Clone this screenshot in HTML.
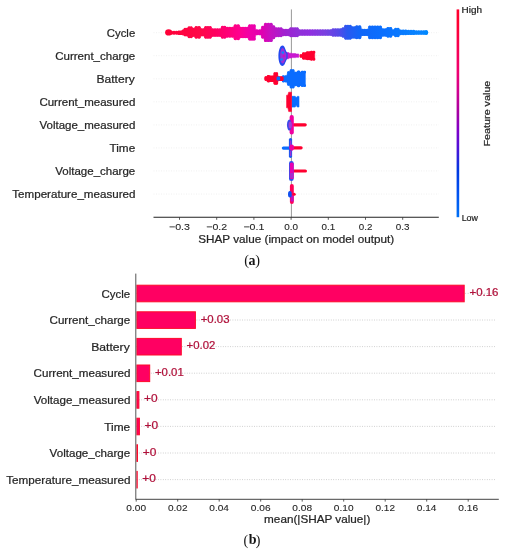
<!DOCTYPE html><html><head><meta charset="utf-8"><style>html,body{margin:0;padding:0;background:#fff;overflow:hidden}svg{display:block;will-change:transform;filter:blur(0.25px)}text{stroke-width:0.22px}text{font-family:"Liberation Sans",sans-serif}</style></head><body>
<svg width="510" height="550" viewBox="0 0 510 550">
<rect width="510" height="550" fill="#fff"/>
<defs><linearGradient id="cb" x1="0" y1="0" x2="0" y2="1"><stop offset="0.000" stop-color="#ff0030"/><stop offset="0.060" stop-color="#ff0030"/><stop offset="0.300" stop-color="#f00070"/><stop offset="0.394" stop-color="#d00090"/><stop offset="0.490" stop-color="#a800a0"/><stop offset="0.580" stop-color="#8000c8"/><stop offset="0.663" stop-color="#5010d8"/><stop offset="0.774" stop-color="#0038e0"/><stop offset="0.880" stop-color="#0050f0"/><stop offset="1.000" stop-color="#0070f4"/></linearGradient>
<linearGradient id="gcyc" gradientUnits="userSpaceOnUse" x1="165" y1="0" x2="428" y2="0"><stop offset="0.000" stop-color="#ff0038"/><stop offset="0.133" stop-color="#ff0848"/><stop offset="0.190" stop-color="#ff0060"/><stop offset="0.240" stop-color="#ff0078"/><stop offset="0.285" stop-color="#ff0090"/><stop offset="0.323" stop-color="#f000a8"/><stop offset="0.369" stop-color="#e000b0"/><stop offset="0.399" stop-color="#c810c0"/><stop offset="0.456" stop-color="#a020d0"/><stop offset="0.506" stop-color="#9030d8"/><stop offset="0.551" stop-color="#9030e0"/><stop offset="0.608" stop-color="#7a40e0"/><stop offset="0.658" stop-color="#5848e8"/><stop offset="0.692" stop-color="#2a58f0"/><stop offset="0.741" stop-color="#1066f8"/><stop offset="0.837" stop-color="#0a70ff"/><stop offset="0.932" stop-color="#0880ff"/><stop offset="1.000" stop-color="#0888ff"/></linearGradient>
</defs>
<line x1="153.5" y1="32.7" x2="438.8" y2="32.7" stroke="#ececec" stroke-width="0.8" stroke-dasharray="1 1.5"/>
<line x1="153.5" y1="55.7" x2="438.8" y2="55.7" stroke="#ececec" stroke-width="0.8" stroke-dasharray="1 1.5"/>
<line x1="153.5" y1="78.8" x2="438.8" y2="78.8" stroke="#ececec" stroke-width="0.8" stroke-dasharray="1 1.5"/>
<line x1="153.5" y1="101.8" x2="438.8" y2="101.8" stroke="#ececec" stroke-width="0.8" stroke-dasharray="1 1.5"/>
<line x1="153.5" y1="124.9" x2="438.8" y2="124.9" stroke="#ececec" stroke-width="0.8" stroke-dasharray="1 1.5"/>
<line x1="153.5" y1="147.9" x2="438.8" y2="147.9" stroke="#ececec" stroke-width="0.8" stroke-dasharray="1 1.5"/>
<line x1="153.5" y1="170.9" x2="438.8" y2="170.9" stroke="#ececec" stroke-width="0.8" stroke-dasharray="1 1.5"/>
<line x1="153.5" y1="194.0" x2="438.8" y2="194.0" stroke="#ececec" stroke-width="0.8" stroke-dasharray="1 1.5"/>
<line x1="291.4" y1="9.4" x2="291.4" y2="217.3" stroke="#999" stroke-width="1"/>
<text x="106.83" y="36.60" font-size="10.8" fill="#262626" stroke="#262626" textLength="28.36" lengthAdjust="spacingAndGlyphs">Cycle</text>
<text x="55.21" y="59.64" font-size="10.8" fill="#262626" stroke="#262626" textLength="79.99" lengthAdjust="spacingAndGlyphs">Current_charge</text>
<text x="96.52" y="82.68" font-size="10.8" fill="#262626" stroke="#262626" textLength="38.21" lengthAdjust="spacingAndGlyphs">Battery</text>
<text x="39.41" y="105.72" font-size="10.8" fill="#262626" stroke="#262626" textLength="96.01" lengthAdjust="spacingAndGlyphs">Current_measured</text>
<text x="39.48" y="128.76" font-size="10.8" fill="#262626" stroke="#262626" textLength="95.96" lengthAdjust="spacingAndGlyphs">Voltage_measured</text>
<text x="109.50" y="151.80" font-size="10.8" fill="#262626" stroke="#262626" textLength="25.70" lengthAdjust="spacingAndGlyphs">Time</text>
<text x="55.29" y="174.84" font-size="10.8" fill="#262626" stroke="#262626" textLength="79.90" lengthAdjust="spacingAndGlyphs">Voltage_charge</text>
<text x="12.32" y="197.88" font-size="10.8" fill="#262626" stroke="#262626" textLength="123.13" lengthAdjust="spacingAndGlyphs">Temperature_measured</text>
<line x1="153.5" y1="217.3" x2="438.8" y2="217.3" stroke="#222" stroke-width="1.05"/>
<line x1="179.5" y1="217.3" x2="179.5" y2="219.8" stroke="#333" stroke-width="0.8"/>
<text x="168.98" y="229.90" font-size="9.05" fill="#262626" stroke="#262626" textLength="20.98" lengthAdjust="spacingAndGlyphs" style="stroke-width:0.1px">−0.3</text>
<line x1="216.7" y1="217.3" x2="216.7" y2="219.8" stroke="#333" stroke-width="0.8"/>
<text x="206.27" y="229.90" font-size="9.05" fill="#262626" stroke="#262626" textLength="20.88" lengthAdjust="spacingAndGlyphs" style="stroke-width:0.1px">−0.2</text>
<line x1="253.9" y1="217.3" x2="253.9" y2="219.8" stroke="#333" stroke-width="0.8"/>
<text x="243.44" y="229.90" font-size="9.05" fill="#262626" stroke="#262626" textLength="20.92" lengthAdjust="spacingAndGlyphs" style="stroke-width:0.1px">−0.1</text>
<line x1="291.1" y1="217.3" x2="291.1" y2="219.8" stroke="#333" stroke-width="0.8"/>
<text x="284.21" y="229.90" font-size="9.05" fill="#262626" stroke="#262626" textLength="13.76" lengthAdjust="spacingAndGlyphs" style="stroke-width:0.1px">0.0</text>
<line x1="328.3" y1="217.3" x2="328.3" y2="219.8" stroke="#333" stroke-width="0.8"/>
<text x="321.52" y="229.90" font-size="9.05" fill="#262626" stroke="#262626" textLength="13.63" lengthAdjust="spacingAndGlyphs" style="stroke-width:0.1px">0.1</text>
<line x1="365.5" y1="217.3" x2="365.5" y2="219.8" stroke="#333" stroke-width="0.8"/>
<text x="358.76" y="229.90" font-size="9.05" fill="#262626" stroke="#262626" textLength="13.59" lengthAdjust="spacingAndGlyphs" style="stroke-width:0.1px">0.2</text>
<line x1="402.7" y1="217.3" x2="402.7" y2="219.8" stroke="#333" stroke-width="0.8"/>
<text x="395.86" y="229.90" font-size="9.05" fill="#262626" stroke="#262626" textLength="13.70" lengthAdjust="spacingAndGlyphs" style="stroke-width:0.1px">0.3</text>
<text x="198.27" y="242.70" font-size="10.6" fill="#262626" stroke="#262626" textLength="195.94" lengthAdjust="spacingAndGlyphs">SHAP value (impact on model output)</text>
<rect x="456.6" y="9.4" width="2.6" height="207.8" fill="url(#cb)"/>
<text x="461.58" y="12.70" font-size="8.65" fill="#262626" stroke="#262626" textLength="20.46" lengthAdjust="spacingAndGlyphs">High</text>
<text x="461.67" y="220.80" font-size="8.65" fill="#262626" stroke="#262626" textLength="16.26" lengthAdjust="spacingAndGlyphs">Low</text>
<g transform="translate(490.3,0) rotate(-90)"><text x="-146.49" y="0.00" font-size="9.45" fill="#262626" stroke="#262626" textLength="65.85" lengthAdjust="spacingAndGlyphs">Feature value</text></g>
<text font-family="Liberation Serif" style="font-family:'Liberation Serif',serif;stroke-width:0" x="244.3" y="264.8" font-size="14.3" fill="#151515">(</text>
<text font-family="Liberation Serif" style="font-family:'Liberation Serif',serif;stroke-width:0" x="248.45" y="264.6" font-size="14" font-weight="bold" fill="#151515">a</text>
<text font-family="Liberation Serif" style="font-family:'Liberation Serif',serif;stroke-width:0" x="255.34" y="264.8" font-size="14.3" fill="#151515">)</text>
<polygon points="170.5,31.4 177.5,31.4 178.5,31.1 181.5,31.1 182.5,30.2 183.5,30.2 184.5,28.4 187.5,28.4 188.5,26.9 191.8,26.9 192.8,28.4 194.2,28.4 195.2,26.7 200.1,26.7 201.1,28.9 204.0,28.9 205.0,26.7 210.9,26.7 211.9,28.9 220.7,28.9 221.7,26.4 225.5,26.4 226.5,27.4 233.3,27.4 234.3,24.9 239.2,24.9 240.2,27.4 248.0,27.4 249.0,24.9 254.9,24.9 255.9,29.9 260.8,29.9 261.8,26.4 263.7,26.4 264.7,23.4 272.0,23.4 273.0,25.9 274.4,25.9 275.4,27.9 281.8,27.9 282.8,29.4 289.1,29.4 290.1,27.9 297.9,27.9 298.9,29.9 331.3,29.9 332.3,28.9 341.1,28.9 342.1,27.9 344.0,27.9 345.0,25.4 350.9,25.4 351.9,26.9 354.8,26.9 355.8,25.9 360.7,25.9 361.7,29.4 367.9,29.4 368.9,26.2 381.2,26.2 382.2,28.9 386.1,28.9 387.1,27.6 391.5,27.6 392.5,29.9 393.9,29.9 394.9,28.4 398.8,28.4 399.8,30.2 406.5,30.2 407.5,30.4 414.5,30.4 415.5,30.9 427.0,30.9 427.0,34.2 415.5,34.2 414.5,34.4 407.5,34.4 406.5,34.6 399.8,34.6 398.8,36.6 394.9,36.6 393.9,35.1 392.5,35.1 391.5,37.1 387.1,37.1 386.1,36.1 382.2,36.1 381.2,38.6 368.9,38.6 367.9,35.4 361.7,35.4 360.7,38.6 355.8,38.6 354.8,38.0 351.9,38.0 350.9,39.1 345.0,39.1 344.0,37.1 342.1,37.1 341.1,36.1 332.3,36.1 331.3,35.2 298.9,35.2 297.9,36.6 290.1,36.6 289.1,35.6 282.8,35.6 281.8,36.6 275.4,36.6 274.4,38.6 273.0,38.6 272.0,41.5 264.7,41.5 263.7,38.1 261.8,38.1 260.8,34.7 255.9,34.7 254.9,40.0 249.0,40.0 248.0,37.6 240.2,37.6 239.2,39.6 234.3,39.6 233.3,37.1 226.5,37.1 225.5,38.1 221.7,38.1 220.7,36.2 211.9,36.2 210.9,38.1 205.0,38.1 204.0,35.7 201.1,35.7 200.1,38.1 195.2,38.1 194.2,36.2 192.8,36.2 191.8,37.6 188.5,37.6 187.5,35.7 184.5,35.7 183.5,34.8 182.5,34.8 181.5,34.4 178.5,34.4 177.5,34.1 170.5,34.1" fill="url(#gcyc)" stroke="url(#gcyc)" stroke-width="0.5" stroke-linejoin="round"/><path d="M169.78,32.40a1.55,1.55 0 1,0 3.10,0a1.55,1.55 0 1,0 -3.10,0M169.78,33.10a1.55,1.55 0 1,0 3.10,0a1.55,1.55 0 1,0 -3.10,0M172.45,32.40a1.55,1.55 0 1,0 3.10,0a1.55,1.55 0 1,0 -3.10,0M172.45,33.10a1.55,1.55 0 1,0 3.10,0a1.55,1.55 0 1,0 -3.10,0M175.12,32.40a1.55,1.55 0 1,0 3.10,0a1.55,1.55 0 1,0 -3.10,0M175.12,33.10a1.55,1.55 0 1,0 3.10,0a1.55,1.55 0 1,0 -3.10,0M177.45,32.00a1.55,1.55 0 1,0 3.10,0a1.55,1.55 0 1,0 -3.10,0M177.45,33.40a1.55,1.55 0 1,0 3.10,0a1.55,1.55 0 1,0 -3.10,0M179.45,32.00a1.55,1.55 0 1,0 3.10,0a1.55,1.55 0 1,0 -3.10,0M179.45,33.40a1.55,1.55 0 1,0 3.10,0a1.55,1.55 0 1,0 -3.10,0M181.45,31.10a1.55,1.55 0 1,0 3.10,0a1.55,1.55 0 1,0 -3.10,0M181.45,33.80a1.55,1.55 0 1,0 3.10,0a1.55,1.55 0 1,0 -3.10,0M183.45,29.30a1.55,1.55 0 1,0 3.10,0a1.55,1.55 0 1,0 -3.10,0M183.45,34.70a1.55,1.55 0 1,0 3.10,0a1.55,1.55 0 1,0 -3.10,0M185.45,29.30a1.55,1.55 0 1,0 3.10,0a1.55,1.55 0 1,0 -3.10,0M185.45,34.70a1.55,1.55 0 1,0 3.10,0a1.55,1.55 0 1,0 -3.10,0M187.52,27.90a1.55,1.55 0 1,0 3.10,0a1.55,1.55 0 1,0 -3.10,0M187.52,36.60a1.55,1.55 0 1,0 3.10,0a1.55,1.55 0 1,0 -3.10,0M189.68,27.90a1.55,1.55 0 1,0 3.10,0a1.55,1.55 0 1,0 -3.10,0M189.68,36.60a1.55,1.55 0 1,0 3.10,0a1.55,1.55 0 1,0 -3.10,0M191.95,29.30a1.55,1.55 0 1,0 3.10,0a1.55,1.55 0 1,0 -3.10,0M191.95,35.20a1.55,1.55 0 1,0 3.10,0a1.55,1.55 0 1,0 -3.10,0M194.62,27.60a1.55,1.55 0 1,0 3.10,0a1.55,1.55 0 1,0 -3.10,0M194.62,37.10a1.55,1.55 0 1,0 3.10,0a1.55,1.55 0 1,0 -3.10,0M197.57,27.60a1.55,1.55 0 1,0 3.10,0a1.55,1.55 0 1,0 -3.10,0M197.57,37.10a1.55,1.55 0 1,0 3.10,0a1.55,1.55 0 1,0 -3.10,0M200.02,29.80a1.55,1.55 0 1,0 3.10,0a1.55,1.55 0 1,0 -3.10,0M200.02,34.70a1.55,1.55 0 1,0 3.10,0a1.55,1.55 0 1,0 -3.10,0M201.97,29.80a1.55,1.55 0 1,0 3.10,0a1.55,1.55 0 1,0 -3.10,0M201.97,34.70a1.55,1.55 0 1,0 3.10,0a1.55,1.55 0 1,0 -3.10,0M204.10,27.60a1.55,1.55 0 1,0 3.10,0a1.55,1.55 0 1,0 -3.10,0M204.10,37.10a1.55,1.55 0 1,0 3.10,0a1.55,1.55 0 1,0 -3.10,0M206.40,27.60a1.55,1.55 0 1,0 3.10,0a1.55,1.55 0 1,0 -3.10,0M206.40,37.10a1.55,1.55 0 1,0 3.10,0a1.55,1.55 0 1,0 -3.10,0M208.70,27.60a1.55,1.55 0 1,0 3.10,0a1.55,1.55 0 1,0 -3.10,0M208.70,37.10a1.55,1.55 0 1,0 3.10,0a1.55,1.55 0 1,0 -3.10,0M211.07,29.80a1.55,1.55 0 1,0 3.10,0a1.55,1.55 0 1,0 -3.10,0M211.07,35.20a1.55,1.55 0 1,0 3.10,0a1.55,1.55 0 1,0 -3.10,0M213.52,29.80a1.55,1.55 0 1,0 3.10,0a1.55,1.55 0 1,0 -3.10,0M213.52,35.20a1.55,1.55 0 1,0 3.10,0a1.55,1.55 0 1,0 -3.10,0M215.97,29.80a1.55,1.55 0 1,0 3.10,0a1.55,1.55 0 1,0 -3.10,0M215.97,35.20a1.55,1.55 0 1,0 3.10,0a1.55,1.55 0 1,0 -3.10,0M218.42,29.80a1.55,1.55 0 1,0 3.10,0a1.55,1.55 0 1,0 -3.10,0M218.42,35.20a1.55,1.55 0 1,0 3.10,0a1.55,1.55 0 1,0 -3.10,0M220.85,27.40a1.55,1.55 0 1,0 3.10,0a1.55,1.55 0 1,0 -3.10,0M220.85,37.10a1.55,1.55 0 1,0 3.10,0a1.55,1.55 0 1,0 -3.10,0M223.25,27.40a1.55,1.55 0 1,0 3.10,0a1.55,1.55 0 1,0 -3.10,0M223.25,37.10a1.55,1.55 0 1,0 3.10,0a1.55,1.55 0 1,0 -3.10,0M225.75,28.30a1.55,1.55 0 1,0 3.10,0a1.55,1.55 0 1,0 -3.10,0M225.75,36.10a1.55,1.55 0 1,0 3.10,0a1.55,1.55 0 1,0 -3.10,0M228.35,28.30a1.55,1.55 0 1,0 3.10,0a1.55,1.55 0 1,0 -3.10,0M228.35,36.10a1.55,1.55 0 1,0 3.10,0a1.55,1.55 0 1,0 -3.10,0M230.95,28.30a1.55,1.55 0 1,0 3.10,0a1.55,1.55 0 1,0 -3.10,0M230.95,36.10a1.55,1.55 0 1,0 3.10,0a1.55,1.55 0 1,0 -3.10,0M233.72,25.90a1.55,1.55 0 1,0 3.10,0a1.55,1.55 0 1,0 -3.10,0M233.72,38.60a1.55,1.55 0 1,0 3.10,0a1.55,1.55 0 1,0 -3.10,0M236.67,25.90a1.55,1.55 0 1,0 3.10,0a1.55,1.55 0 1,0 -3.10,0M236.67,38.60a1.55,1.55 0 1,0 3.10,0a1.55,1.55 0 1,0 -3.10,0M239.25,28.30a1.55,1.55 0 1,0 3.10,0a1.55,1.55 0 1,0 -3.10,0M239.25,36.60a1.55,1.55 0 1,0 3.10,0a1.55,1.55 0 1,0 -3.10,0M241.45,28.30a1.55,1.55 0 1,0 3.10,0a1.55,1.55 0 1,0 -3.10,0M241.45,36.60a1.55,1.55 0 1,0 3.10,0a1.55,1.55 0 1,0 -3.10,0M243.65,28.30a1.55,1.55 0 1,0 3.10,0a1.55,1.55 0 1,0 -3.10,0M243.65,36.60a1.55,1.55 0 1,0 3.10,0a1.55,1.55 0 1,0 -3.10,0M245.85,28.30a1.55,1.55 0 1,0 3.10,0a1.55,1.55 0 1,0 -3.10,0M245.85,36.60a1.55,1.55 0 1,0 3.10,0a1.55,1.55 0 1,0 -3.10,0M248.10,25.90a1.55,1.55 0 1,0 3.10,0a1.55,1.55 0 1,0 -3.10,0M248.10,39.00a1.55,1.55 0 1,0 3.10,0a1.55,1.55 0 1,0 -3.10,0M250.40,25.90a1.55,1.55 0 1,0 3.10,0a1.55,1.55 0 1,0 -3.10,0M250.40,39.00a1.55,1.55 0 1,0 3.10,0a1.55,1.55 0 1,0 -3.10,0M252.70,25.90a1.55,1.55 0 1,0 3.10,0a1.55,1.55 0 1,0 -3.10,0M252.70,39.00a1.55,1.55 0 1,0 3.10,0a1.55,1.55 0 1,0 -3.10,0M255.32,30.80a1.55,1.55 0 1,0 3.10,0a1.55,1.55 0 1,0 -3.10,0M255.32,33.70a1.55,1.55 0 1,0 3.10,0a1.55,1.55 0 1,0 -3.10,0M258.27,30.80a1.55,1.55 0 1,0 3.10,0a1.55,1.55 0 1,0 -3.10,0M258.27,33.70a1.55,1.55 0 1,0 3.10,0a1.55,1.55 0 1,0 -3.10,0M261.20,27.30a1.55,1.55 0 1,0 3.10,0a1.55,1.55 0 1,0 -3.10,0M261.20,37.10a1.55,1.55 0 1,0 3.10,0a1.55,1.55 0 1,0 -3.10,0M264.03,24.40a1.55,1.55 0 1,0 3.10,0a1.55,1.55 0 1,0 -3.10,0M264.03,40.50a1.55,1.55 0 1,0 3.10,0a1.55,1.55 0 1,0 -3.10,0M266.80,24.40a1.55,1.55 0 1,0 3.10,0a1.55,1.55 0 1,0 -3.10,0M266.80,40.50a1.55,1.55 0 1,0 3.10,0a1.55,1.55 0 1,0 -3.10,0M269.57,24.40a1.55,1.55 0 1,0 3.10,0a1.55,1.55 0 1,0 -3.10,0M269.57,40.50a1.55,1.55 0 1,0 3.10,0a1.55,1.55 0 1,0 -3.10,0M272.15,26.90a1.55,1.55 0 1,0 3.10,0a1.55,1.55 0 1,0 -3.10,0M272.15,37.60a1.55,1.55 0 1,0 3.10,0a1.55,1.55 0 1,0 -3.10,0M274.58,28.80a1.55,1.55 0 1,0 3.10,0a1.55,1.55 0 1,0 -3.10,0M274.58,35.60a1.55,1.55 0 1,0 3.10,0a1.55,1.55 0 1,0 -3.10,0M277.05,28.80a1.55,1.55 0 1,0 3.10,0a1.55,1.55 0 1,0 -3.10,0M277.05,35.60a1.55,1.55 0 1,0 3.10,0a1.55,1.55 0 1,0 -3.10,0M279.52,28.80a1.55,1.55 0 1,0 3.10,0a1.55,1.55 0 1,0 -3.10,0M279.52,35.60a1.55,1.55 0 1,0 3.10,0a1.55,1.55 0 1,0 -3.10,0M281.97,30.30a1.55,1.55 0 1,0 3.10,0a1.55,1.55 0 1,0 -3.10,0M281.97,34.60a1.55,1.55 0 1,0 3.10,0a1.55,1.55 0 1,0 -3.10,0M284.40,30.30a1.55,1.55 0 1,0 3.10,0a1.55,1.55 0 1,0 -3.10,0M284.40,34.60a1.55,1.55 0 1,0 3.10,0a1.55,1.55 0 1,0 -3.10,0M286.83,30.30a1.55,1.55 0 1,0 3.10,0a1.55,1.55 0 1,0 -3.10,0M286.83,34.60a1.55,1.55 0 1,0 3.10,0a1.55,1.55 0 1,0 -3.10,0M289.15,28.80a1.55,1.55 0 1,0 3.10,0a1.55,1.55 0 1,0 -3.10,0M289.15,35.60a1.55,1.55 0 1,0 3.10,0a1.55,1.55 0 1,0 -3.10,0M291.35,28.80a1.55,1.55 0 1,0 3.10,0a1.55,1.55 0 1,0 -3.10,0M291.35,35.60a1.55,1.55 0 1,0 3.10,0a1.55,1.55 0 1,0 -3.10,0M293.55,28.80a1.55,1.55 0 1,0 3.10,0a1.55,1.55 0 1,0 -3.10,0M293.55,35.60a1.55,1.55 0 1,0 3.10,0a1.55,1.55 0 1,0 -3.10,0M295.75,28.80a1.55,1.55 0 1,0 3.10,0a1.55,1.55 0 1,0 -3.10,0M295.75,35.60a1.55,1.55 0 1,0 3.10,0a1.55,1.55 0 1,0 -3.10,0M298.13,30.80a1.55,1.55 0 1,0 3.10,0a1.55,1.55 0 1,0 -3.10,0M298.13,34.30a1.55,1.55 0 1,0 3.10,0a1.55,1.55 0 1,0 -3.10,0M300.70,30.80a1.55,1.55 0 1,0 3.10,0a1.55,1.55 0 1,0 -3.10,0M300.70,34.30a1.55,1.55 0 1,0 3.10,0a1.55,1.55 0 1,0 -3.10,0M303.27,30.80a1.55,1.55 0 1,0 3.10,0a1.55,1.55 0 1,0 -3.10,0M303.27,34.30a1.55,1.55 0 1,0 3.10,0a1.55,1.55 0 1,0 -3.10,0M305.84,30.80a1.55,1.55 0 1,0 3.10,0a1.55,1.55 0 1,0 -3.10,0M305.84,34.30a1.55,1.55 0 1,0 3.10,0a1.55,1.55 0 1,0 -3.10,0M308.41,30.80a1.55,1.55 0 1,0 3.10,0a1.55,1.55 0 1,0 -3.10,0M308.41,34.30a1.55,1.55 0 1,0 3.10,0a1.55,1.55 0 1,0 -3.10,0M310.98,30.80a1.55,1.55 0 1,0 3.10,0a1.55,1.55 0 1,0 -3.10,0M310.98,34.30a1.55,1.55 0 1,0 3.10,0a1.55,1.55 0 1,0 -3.10,0M313.55,30.80a1.55,1.55 0 1,0 3.10,0a1.55,1.55 0 1,0 -3.10,0M313.55,34.30a1.55,1.55 0 1,0 3.10,0a1.55,1.55 0 1,0 -3.10,0M316.12,30.80a1.55,1.55 0 1,0 3.10,0a1.55,1.55 0 1,0 -3.10,0M316.12,34.30a1.55,1.55 0 1,0 3.10,0a1.55,1.55 0 1,0 -3.10,0M318.69,30.80a1.55,1.55 0 1,0 3.10,0a1.55,1.55 0 1,0 -3.10,0M318.69,34.30a1.55,1.55 0 1,0 3.10,0a1.55,1.55 0 1,0 -3.10,0M321.26,30.80a1.55,1.55 0 1,0 3.10,0a1.55,1.55 0 1,0 -3.10,0M321.26,34.30a1.55,1.55 0 1,0 3.10,0a1.55,1.55 0 1,0 -3.10,0M323.83,30.80a1.55,1.55 0 1,0 3.10,0a1.55,1.55 0 1,0 -3.10,0M323.83,34.30a1.55,1.55 0 1,0 3.10,0a1.55,1.55 0 1,0 -3.10,0M326.40,30.80a1.55,1.55 0 1,0 3.10,0a1.55,1.55 0 1,0 -3.10,0M326.40,34.30a1.55,1.55 0 1,0 3.10,0a1.55,1.55 0 1,0 -3.10,0M328.97,30.80a1.55,1.55 0 1,0 3.10,0a1.55,1.55 0 1,0 -3.10,0M328.97,34.30a1.55,1.55 0 1,0 3.10,0a1.55,1.55 0 1,0 -3.10,0M331.48,29.80a1.55,1.55 0 1,0 3.10,0a1.55,1.55 0 1,0 -3.10,0M331.48,35.10a1.55,1.55 0 1,0 3.10,0a1.55,1.55 0 1,0 -3.10,0M333.93,29.80a1.55,1.55 0 1,0 3.10,0a1.55,1.55 0 1,0 -3.10,0M333.93,35.10a1.55,1.55 0 1,0 3.10,0a1.55,1.55 0 1,0 -3.10,0M336.38,29.80a1.55,1.55 0 1,0 3.10,0a1.55,1.55 0 1,0 -3.10,0M336.38,35.10a1.55,1.55 0 1,0 3.10,0a1.55,1.55 0 1,0 -3.10,0M338.82,29.80a1.55,1.55 0 1,0 3.10,0a1.55,1.55 0 1,0 -3.10,0M338.82,35.10a1.55,1.55 0 1,0 3.10,0a1.55,1.55 0 1,0 -3.10,0M341.50,28.80a1.55,1.55 0 1,0 3.10,0a1.55,1.55 0 1,0 -3.10,0M341.50,36.10a1.55,1.55 0 1,0 3.10,0a1.55,1.55 0 1,0 -3.10,0M344.10,26.40a1.55,1.55 0 1,0 3.10,0a1.55,1.55 0 1,0 -3.10,0M344.10,38.10a1.55,1.55 0 1,0 3.10,0a1.55,1.55 0 1,0 -3.10,0M346.40,26.40a1.55,1.55 0 1,0 3.10,0a1.55,1.55 0 1,0 -3.10,0M346.40,38.10a1.55,1.55 0 1,0 3.10,0a1.55,1.55 0 1,0 -3.10,0M348.70,26.40a1.55,1.55 0 1,0 3.10,0a1.55,1.55 0 1,0 -3.10,0M348.70,38.10a1.55,1.55 0 1,0 3.10,0a1.55,1.55 0 1,0 -3.10,0M350.82,27.80a1.55,1.55 0 1,0 3.10,0a1.55,1.55 0 1,0 -3.10,0M350.82,37.00a1.55,1.55 0 1,0 3.10,0a1.55,1.55 0 1,0 -3.10,0M352.77,27.80a1.55,1.55 0 1,0 3.10,0a1.55,1.55 0 1,0 -3.10,0M352.77,37.00a1.55,1.55 0 1,0 3.10,0a1.55,1.55 0 1,0 -3.10,0M355.22,26.90a1.55,1.55 0 1,0 3.10,0a1.55,1.55 0 1,0 -3.10,0M355.22,37.60a1.55,1.55 0 1,0 3.10,0a1.55,1.55 0 1,0 -3.10,0M358.18,26.90a1.55,1.55 0 1,0 3.10,0a1.55,1.55 0 1,0 -3.10,0M358.18,37.60a1.55,1.55 0 1,0 3.10,0a1.55,1.55 0 1,0 -3.10,0M360.85,30.30a1.55,1.55 0 1,0 3.10,0a1.55,1.55 0 1,0 -3.10,0M360.85,34.40a1.55,1.55 0 1,0 3.10,0a1.55,1.55 0 1,0 -3.10,0M363.25,30.30a1.55,1.55 0 1,0 3.10,0a1.55,1.55 0 1,0 -3.10,0M363.25,34.40a1.55,1.55 0 1,0 3.10,0a1.55,1.55 0 1,0 -3.10,0M365.65,30.30a1.55,1.55 0 1,0 3.10,0a1.55,1.55 0 1,0 -3.10,0M365.65,34.40a1.55,1.55 0 1,0 3.10,0a1.55,1.55 0 1,0 -3.10,0M368.18,27.10a1.55,1.55 0 1,0 3.10,0a1.55,1.55 0 1,0 -3.10,0M368.18,37.60a1.55,1.55 0 1,0 3.10,0a1.55,1.55 0 1,0 -3.10,0M370.84,27.10a1.55,1.55 0 1,0 3.10,0a1.55,1.55 0 1,0 -3.10,0M370.84,37.60a1.55,1.55 0 1,0 3.10,0a1.55,1.55 0 1,0 -3.10,0M373.50,27.10a1.55,1.55 0 1,0 3.10,0a1.55,1.55 0 1,0 -3.10,0M373.50,37.60a1.55,1.55 0 1,0 3.10,0a1.55,1.55 0 1,0 -3.10,0M376.16,27.10a1.55,1.55 0 1,0 3.10,0a1.55,1.55 0 1,0 -3.10,0M376.16,37.60a1.55,1.55 0 1,0 3.10,0a1.55,1.55 0 1,0 -3.10,0M378.82,27.10a1.55,1.55 0 1,0 3.10,0a1.55,1.55 0 1,0 -3.10,0M378.82,37.60a1.55,1.55 0 1,0 3.10,0a1.55,1.55 0 1,0 -3.10,0M381.38,29.80a1.55,1.55 0 1,0 3.10,0a1.55,1.55 0 1,0 -3.10,0M381.38,35.10a1.55,1.55 0 1,0 3.10,0a1.55,1.55 0 1,0 -3.10,0M383.82,29.80a1.55,1.55 0 1,0 3.10,0a1.55,1.55 0 1,0 -3.10,0M383.82,35.10a1.55,1.55 0 1,0 3.10,0a1.55,1.55 0 1,0 -3.10,0M386.40,28.50a1.55,1.55 0 1,0 3.10,0a1.55,1.55 0 1,0 -3.10,0M386.40,36.10a1.55,1.55 0 1,0 3.10,0a1.55,1.55 0 1,0 -3.10,0M389.10,28.50a1.55,1.55 0 1,0 3.10,0a1.55,1.55 0 1,0 -3.10,0M389.10,36.10a1.55,1.55 0 1,0 3.10,0a1.55,1.55 0 1,0 -3.10,0M391.65,30.80a1.55,1.55 0 1,0 3.10,0a1.55,1.55 0 1,0 -3.10,0M391.65,34.10a1.55,1.55 0 1,0 3.10,0a1.55,1.55 0 1,0 -3.10,0M394.07,29.30a1.55,1.55 0 1,0 3.10,0a1.55,1.55 0 1,0 -3.10,0M394.07,35.60a1.55,1.55 0 1,0 3.10,0a1.55,1.55 0 1,0 -3.10,0M396.52,29.30a1.55,1.55 0 1,0 3.10,0a1.55,1.55 0 1,0 -3.10,0M396.52,35.60a1.55,1.55 0 1,0 3.10,0a1.55,1.55 0 1,0 -3.10,0M399.03,31.10a1.55,1.55 0 1,0 3.10,0a1.55,1.55 0 1,0 -3.10,0M399.03,33.60a1.55,1.55 0 1,0 3.10,0a1.55,1.55 0 1,0 -3.10,0M401.60,31.10a1.55,1.55 0 1,0 3.10,0a1.55,1.55 0 1,0 -3.10,0M401.60,33.60a1.55,1.55 0 1,0 3.10,0a1.55,1.55 0 1,0 -3.10,0M404.17,31.10a1.55,1.55 0 1,0 3.10,0a1.55,1.55 0 1,0 -3.10,0M404.17,33.60a1.55,1.55 0 1,0 3.10,0a1.55,1.55 0 1,0 -3.10,0M406.78,31.40a1.55,1.55 0 1,0 3.10,0a1.55,1.55 0 1,0 -3.10,0M406.78,33.40a1.55,1.55 0 1,0 3.10,0a1.55,1.55 0 1,0 -3.10,0M409.45,31.40a1.55,1.55 0 1,0 3.10,0a1.55,1.55 0 1,0 -3.10,0M409.45,33.40a1.55,1.55 0 1,0 3.10,0a1.55,1.55 0 1,0 -3.10,0M412.12,31.40a1.55,1.55 0 1,0 3.10,0a1.55,1.55 0 1,0 -3.10,0M412.12,33.40a1.55,1.55 0 1,0 3.10,0a1.55,1.55 0 1,0 -3.10,0M414.70,31.80a1.55,1.55 0 1,0 3.10,0a1.55,1.55 0 1,0 -3.10,0M414.70,33.20a1.55,1.55 0 1,0 3.10,0a1.55,1.55 0 1,0 -3.10,0M417.20,31.80a1.55,1.55 0 1,0 3.10,0a1.55,1.55 0 1,0 -3.10,0M417.20,33.20a1.55,1.55 0 1,0 3.10,0a1.55,1.55 0 1,0 -3.10,0M419.70,31.80a1.55,1.55 0 1,0 3.10,0a1.55,1.55 0 1,0 -3.10,0M419.70,33.20a1.55,1.55 0 1,0 3.10,0a1.55,1.55 0 1,0 -3.10,0M422.20,31.80a1.55,1.55 0 1,0 3.10,0a1.55,1.55 0 1,0 -3.10,0M422.20,33.20a1.55,1.55 0 1,0 3.10,0a1.55,1.55 0 1,0 -3.10,0M424.70,31.80a1.55,1.55 0 1,0 3.10,0a1.55,1.55 0 1,0 -3.10,0M424.70,33.20a1.55,1.55 0 1,0 3.10,0a1.55,1.55 0 1,0 -3.10,0" fill="url(#gcyc)"/>
<ellipse cx="168.6" cy="32.45" rx="3.5" ry="3.15" fill="#ff0038"/>
<circle cx="426" cy="32.5" r="2.25" fill="#0088ff"/>
<polygon points="285.9,52.6 288.6,52.6 289.4,53.2 291.6,53.2 292.4,53.6 295.6,53.6 296.4,54.0 298.8,54.0 298.8,57.3 296.4,57.3 295.6,57.6 292.4,57.6 291.6,58.0 289.4,58.0 288.6,58.8 285.9,58.8" fill="#c818d0" stroke="#c818d0" stroke-width="0.6" stroke-linejoin="round"/>
<path d="M287.6,53.2 C285.4,51.5 285.2,45.6 282.6,45.6 C280,45.6 278.4,50.5 278.4,56 C278.4,61.5 280,65.9 282.6,65.9 C285.2,65.9 285.4,60.5 287.6,58.6 Z" fill="#2448f0"/>
<path d="M286.4,53.4 C284.6,52 284.2,48 282.8,48 C281.2,48 280.2,51.5 280.2,56 C280.2,60.5 281.2,63.5 282.8,63.5 C284.2,63.5 284.6,60 286.4,58.4 Z" fill="#9a30d8"/>
<circle cx="282.8" cy="52.5" r="1.3" fill="#0a88ff"/><circle cx="281.6" cy="59.5" r="1.3" fill="#0a88ff"/><circle cx="283.8" cy="56" r="1.1" fill="#e000c0"/>
<polygon points="300.1,54.8 301.9,54.8 302.9,52.9 305.8,52.9 306.8,51.9 309.7,51.9 310.7,51.4 314.7,51.4 314.7,60.1 310.7,60.1 309.7,59.6 306.8,59.6 305.8,59.1 302.9,59.1 301.9,57.2 300.1,57.2" fill="#ff0030" stroke="#ff0030" stroke-width="0.5" stroke-linejoin="round"/><path d="M299.60,55.55a1.4,1.4 0 1,0 2.80,0a1.4,1.4 0 1,0 -2.80,0M299.60,56.35a1.4,1.4 0 1,0 2.80,0a1.4,1.4 0 1,0 -2.80,0M301.98,53.75a1.4,1.4 0 1,0 2.80,0a1.4,1.4 0 1,0 -2.80,0M301.98,58.25a1.4,1.4 0 1,0 2.80,0a1.4,1.4 0 1,0 -2.80,0M303.93,53.75a1.4,1.4 0 1,0 2.80,0a1.4,1.4 0 1,0 -2.80,0M303.93,58.25a1.4,1.4 0 1,0 2.80,0a1.4,1.4 0 1,0 -2.80,0M305.88,52.75a1.4,1.4 0 1,0 2.80,0a1.4,1.4 0 1,0 -2.80,0M305.88,58.75a1.4,1.4 0 1,0 2.80,0a1.4,1.4 0 1,0 -2.80,0M307.83,52.75a1.4,1.4 0 1,0 2.80,0a1.4,1.4 0 1,0 -2.80,0M307.83,58.75a1.4,1.4 0 1,0 2.80,0a1.4,1.4 0 1,0 -2.80,0M310.05,52.25a1.4,1.4 0 1,0 2.80,0a1.4,1.4 0 1,0 -2.80,0M310.05,59.25a1.4,1.4 0 1,0 2.80,0a1.4,1.4 0 1,0 -2.80,0M312.55,52.25a1.4,1.4 0 1,0 2.80,0a1.4,1.4 0 1,0 -2.80,0M312.55,59.25a1.4,1.4 0 1,0 2.80,0a1.4,1.4 0 1,0 -2.80,0" fill="#ff0030"/>
<polygon points="265.7,77.0 266.3,77.0 267.3,75.5 269.5,75.5 270.5,76.1 273.3,76.1 274.3,72.8 277.3,72.8 278.3,76.8 283.5,76.8 283.5,80.5 278.3,80.5 277.3,84.2 274.3,84.2 273.3,81.5 270.5,81.5 269.5,81.9 267.3,81.9 266.3,80.2 265.7,80.2" fill="#ff0030" stroke="#ff0030" stroke-width="0.5" stroke-linejoin="round"/><path d="M264.60,77.75a1.4,1.4 0 1,0 2.80,0a1.4,1.4 0 1,0 -2.80,0M264.60,79.45a1.4,1.4 0 1,0 2.80,0a1.4,1.4 0 1,0 -2.80,0M267.00,76.35a1.4,1.4 0 1,0 2.80,0a1.4,1.4 0 1,0 -2.80,0M267.00,81.05a1.4,1.4 0 1,0 2.80,0a1.4,1.4 0 1,0 -2.80,0M269.55,76.95a1.4,1.4 0 1,0 2.80,0a1.4,1.4 0 1,0 -2.80,0M269.55,80.65a1.4,1.4 0 1,0 2.80,0a1.4,1.4 0 1,0 -2.80,0M271.45,76.95a1.4,1.4 0 1,0 2.80,0a1.4,1.4 0 1,0 -2.80,0M271.45,80.65a1.4,1.4 0 1,0 2.80,0a1.4,1.4 0 1,0 -2.80,0M273.40,73.65a1.4,1.4 0 1,0 2.80,0a1.4,1.4 0 1,0 -2.80,0M273.40,83.35a1.4,1.4 0 1,0 2.80,0a1.4,1.4 0 1,0 -2.80,0M275.40,73.65a1.4,1.4 0 1,0 2.80,0a1.4,1.4 0 1,0 -2.80,0M275.40,83.35a1.4,1.4 0 1,0 2.80,0a1.4,1.4 0 1,0 -2.80,0M277.43,77.55a1.4,1.4 0 1,0 2.80,0a1.4,1.4 0 1,0 -2.80,0M277.43,79.65a1.4,1.4 0 1,0 2.80,0a1.4,1.4 0 1,0 -2.80,0M279.50,77.55a1.4,1.4 0 1,0 2.80,0a1.4,1.4 0 1,0 -2.80,0M279.50,79.65a1.4,1.4 0 1,0 2.80,0a1.4,1.4 0 1,0 -2.80,0M281.57,77.55a1.4,1.4 0 1,0 2.80,0a1.4,1.4 0 1,0 -2.80,0M281.57,79.65a1.4,1.4 0 1,0 2.80,0a1.4,1.4 0 1,0 -2.80,0" fill="#ff0030"/>
<ellipse cx="265.6" cy="78.6" rx="1.3" ry="2.4" fill="#ff0030"/>
<polygon points="282.5,76.0 286.7,76.0 287.7,71.8 289.5,71.8 290.5,69.8 293.7,69.8 294.7,72.3 296.5,72.3 297.5,71.0 299.7,71.0 300.7,72.5 300.5,72.5 301.5,71.3 305.4,71.3 305.4,86.4 301.5,86.4 300.5,85.2 300.7,85.2 299.7,86.7 297.5,86.7 296.5,85.7 294.7,85.7 293.7,87.9 290.5,87.9 289.5,85.2 287.7,85.2 286.7,81.9 282.5,81.9" fill="#0a6cff" stroke="#0a6cff" stroke-width="0.5" stroke-linejoin="round"/><path d="M281.90,76.75a1.4,1.4 0 1,0 2.80,0a1.4,1.4 0 1,0 -2.80,0M281.90,81.05a1.4,1.4 0 1,0 2.80,0a1.4,1.4 0 1,0 -2.80,0M284.50,76.75a1.4,1.4 0 1,0 2.80,0a1.4,1.4 0 1,0 -2.80,0M284.50,81.05a1.4,1.4 0 1,0 2.80,0a1.4,1.4 0 1,0 -2.80,0M287.20,72.65a1.4,1.4 0 1,0 2.80,0a1.4,1.4 0 1,0 -2.80,0M287.20,84.45a1.4,1.4 0 1,0 2.80,0a1.4,1.4 0 1,0 -2.80,0M289.65,70.55a1.4,1.4 0 1,0 2.80,0a1.4,1.4 0 1,0 -2.80,0M289.65,87.05a1.4,1.4 0 1,0 2.80,0a1.4,1.4 0 1,0 -2.80,0M291.75,70.55a1.4,1.4 0 1,0 2.80,0a1.4,1.4 0 1,0 -2.80,0M291.75,87.05a1.4,1.4 0 1,0 2.80,0a1.4,1.4 0 1,0 -2.80,0M294.20,73.15a1.4,1.4 0 1,0 2.80,0a1.4,1.4 0 1,0 -2.80,0M294.20,84.85a1.4,1.4 0 1,0 2.80,0a1.4,1.4 0 1,0 -2.80,0M297.20,71.85a1.4,1.4 0 1,0 2.80,0a1.4,1.4 0 1,0 -2.80,0M297.20,85.85a1.4,1.4 0 1,0 2.80,0a1.4,1.4 0 1,0 -2.80,0M299.20,73.35a1.4,1.4 0 1,0 2.80,0a1.4,1.4 0 1,0 -2.80,0M299.20,84.45a1.4,1.4 0 1,0 2.80,0a1.4,1.4 0 1,0 -2.80,0M300.83,72.15a1.4,1.4 0 1,0 2.80,0a1.4,1.4 0 1,0 -2.80,0M300.83,85.55a1.4,1.4 0 1,0 2.80,0a1.4,1.4 0 1,0 -2.80,0M303.27,72.15a1.4,1.4 0 1,0 2.80,0a1.4,1.4 0 1,0 -2.80,0M303.27,85.55a1.4,1.4 0 1,0 2.80,0a1.4,1.4 0 1,0 -2.80,0" fill="#0a6cff"/>
<rect x="276.6" y="76.6" width="3.6" height="3.8" rx="1.2" fill="#0a6cff"/>
<rect x="280.8" y="76.4" width="2.8" height="4.6" rx="1.2" fill="#ff0030"/>
<polygon points="292.0,96.3 295.2,96.3 296.0,97.6 296.4,97.6 297.2,96.4 299.0,96.4 299.0,107.0 297.2,107.0 296.4,105.6 296.0,105.6 295.2,107.1 292.0,107.1" fill="#0a6cff" stroke="#0a6cff" stroke-width="0.6" stroke-linejoin="round"/>
<polygon points="286.6,95.2 287.9,95.2 288.7,92.2 291.5,92.2 291.5,111.6 288.7,111.6 287.9,107.8 286.6,107.8" fill="#ff0030" stroke="#ff0030" stroke-width="0.6" stroke-linejoin="round"/>
<line x1="294" y1="124.8" x2="305.2" y2="124.8" stroke="#ff0030" stroke-width="3.2" stroke-linecap="round"/>
<rect x="289.6" y="114.9" width="4.2" height="19.7" rx="2" fill="#f000a0"/>
<ellipse cx="289.3" cy="125" rx="2.3" ry="5.6" fill="#3a48e8"/>
<ellipse cx="290.2" cy="125" rx="1.6" ry="3.6" fill="#a040d8"/>
<line x1="283.4" y1="148.1" x2="289.5" y2="148.1" stroke="#0a6cff" stroke-width="3.2" stroke-linecap="round"/>
<line x1="293" y1="147.8" x2="301.1" y2="147.8" stroke="#ff0030" stroke-width="3.2" stroke-linecap="round"/>
<rect x="288.9" y="137.9" width="3.2" height="20" rx="1.6" fill="#1a58f0"/>
<rect x="289.9" y="140.5" width="1.5" height="5.5" fill="#9a30d8"/>
<rect x="289.9" y="151" width="1.5" height="5" fill="#9a30d8"/>
<ellipse cx="291.7" cy="147.6" rx="2.4" ry="3.1" fill="#f000a0"/>
<line x1="294" y1="171" x2="305.4" y2="171" stroke="#ff0030" stroke-width="3.2" stroke-linecap="round"/>
<rect x="289" y="161" width="4.7" height="20" rx="2.3" fill="#2a50f0"/>
<rect x="289.8" y="162.6" width="3.9" height="16.5" rx="1.6" fill="#e800b0"/>
<rect x="290.2" y="173" width="3.0" height="5" fill="#a030d0"/>
<rect x="289.9" y="184.1" width="3.9" height="19.9" rx="1.9" fill="#ff0058"/>
<rect x="290.6" y="195.5" width="3" height="6" fill="#c010c0"/>
<ellipse cx="289.9" cy="194.2" rx="1.9" ry="3.2" fill="#1050f0"/>
<circle cx="294.2" cy="194.2" r="1.5" fill="#ff0030"/>
<line x1="136.5" y1="293.4" x2="496" y2="293.4" stroke="#b8b8b8" stroke-width="0.8" stroke-dasharray="0.8 1.6"/>
<line x1="136.5" y1="320.0" x2="496" y2="320.0" stroke="#b8b8b8" stroke-width="0.8" stroke-dasharray="0.8 1.6"/>
<line x1="136.5" y1="346.6" x2="496" y2="346.6" stroke="#b8b8b8" stroke-width="0.8" stroke-dasharray="0.8 1.6"/>
<line x1="136.5" y1="373.2" x2="496" y2="373.2" stroke="#b8b8b8" stroke-width="0.8" stroke-dasharray="0.8 1.6"/>
<line x1="136.5" y1="399.8" x2="496" y2="399.8" stroke="#b8b8b8" stroke-width="0.8" stroke-dasharray="0.8 1.6"/>
<line x1="136.5" y1="426.4" x2="496" y2="426.4" stroke="#b8b8b8" stroke-width="0.8" stroke-dasharray="0.8 1.6"/>
<line x1="136.5" y1="453.0" x2="496" y2="453.0" stroke="#b8b8b8" stroke-width="0.8" stroke-dasharray="0.8 1.6"/>
<line x1="136.5" y1="479.6" x2="496" y2="479.6" stroke="#b8b8b8" stroke-width="0.8" stroke-dasharray="0.8 1.6"/>
<rect x="136.9" y="285.2" width="327.3" height="16.6" fill="#ff0062" stroke="#ff0a2a" stroke-width="1"/>
<text x="469.46" y="296.00" font-size="10.2" fill="#b0103a" stroke="#b0103a" textLength="28.97" lengthAdjust="spacingAndGlyphs">+0.16</text>
<text x="101.59" y="297.60" font-size="10.8" fill="#262626" stroke="#262626" textLength="28.60" lengthAdjust="spacingAndGlyphs">Cycle</text>
<rect x="136.9" y="311.8" width="58.5" height="16.6" fill="#ff0062" stroke="#ff0a2a" stroke-width="1"/>
<text x="200.66" y="322.60" font-size="10.2" fill="#b0103a" stroke="#b0103a" textLength="28.82" lengthAdjust="spacingAndGlyphs">+0.03</text>
<text x="49.53" y="324.20" font-size="10.8" fill="#262626" stroke="#262626" textLength="80.68" lengthAdjust="spacingAndGlyphs">Current_charge</text>
<rect x="136.9" y="338.4" width="44.4" height="16.6" fill="#ff0062" stroke="#ff0a2a" stroke-width="1"/>
<text x="186.56" y="349.20" font-size="10.2" fill="#b0103a" stroke="#b0103a" textLength="28.71" lengthAdjust="spacingAndGlyphs">+0.02</text>
<text x="91.19" y="350.80" font-size="10.8" fill="#262626" stroke="#262626" textLength="38.54" lengthAdjust="spacingAndGlyphs">Battery</text>
<rect x="136.9" y="365.0" width="12.8" height="16.6" fill="#ff0062" stroke="#ff0a2a" stroke-width="1"/>
<text x="154.96" y="375.80" font-size="10.2" fill="#b0103a" stroke="#b0103a" textLength="28.75" lengthAdjust="spacingAndGlyphs">+0.01</text>
<text x="33.58" y="377.40" font-size="10.8" fill="#262626" stroke="#262626" textLength="96.85" lengthAdjust="spacingAndGlyphs">Current_measured</text>
<rect x="136.9" y="391.6" width="2.0" height="16.6" fill="#ff0062" stroke="#ff0a2a" stroke-width="1"/>
<text x="144.13" y="402.40" font-size="10.2" fill="#b0103a" stroke="#b0103a" textLength="13.58" lengthAdjust="spacingAndGlyphs">+0</text>
<text x="33.66" y="404.00" font-size="10.8" fill="#262626" stroke="#262626" textLength="96.79" lengthAdjust="spacingAndGlyphs">Voltage_measured</text>
<rect x="136.9" y="418.2" width="2.5" height="16.6" fill="#ff0062" stroke="#ff0a2a" stroke-width="1"/>
<text x="144.63" y="429.00" font-size="10.2" fill="#b0103a" stroke="#b0103a" textLength="13.58" lengthAdjust="spacingAndGlyphs">+0</text>
<text x="104.28" y="430.60" font-size="10.8" fill="#262626" stroke="#262626" textLength="25.92" lengthAdjust="spacingAndGlyphs">Time</text>
<rect x="136.9" y="444.8" width="0.6" height="16.6" fill="#ff0062" stroke="#ff0a2a" stroke-width="1"/>
<text x="142.73" y="455.60" font-size="10.2" fill="#b0103a" stroke="#b0103a" textLength="13.58" lengthAdjust="spacingAndGlyphs">+0</text>
<text x="49.60" y="457.20" font-size="10.8" fill="#262626" stroke="#262626" textLength="80.59" lengthAdjust="spacingAndGlyphs">Voltage_charge</text>
<rect x="136.9" y="471.4" width="0.3" height="16.6" fill="#ff0062" stroke="#ff0a2a" stroke-width="1"/>
<text x="142.33" y="482.20" font-size="10.2" fill="#b0103a" stroke="#b0103a" textLength="13.58" lengthAdjust="spacingAndGlyphs">+0</text>
<text x="6.26" y="483.80" font-size="10.8" fill="#262626" stroke="#262626" textLength="124.20" lengthAdjust="spacingAndGlyphs">Temperature_measured</text>
<line x1="135.8" y1="273.6" x2="135.8" y2="499.4" stroke="#555" stroke-width="1"/>
<line x1="135.6" y1="499.3" x2="498.8" y2="499.3" stroke="#444" stroke-width="1"/>
<line x1="136.2" y1="499.3" x2="136.2" y2="501.6" stroke="#333" stroke-width="0.8"/>
<text x="126.37" y="510.60" font-size="9.15" fill="#262626" stroke="#262626" textLength="19.65" lengthAdjust="spacingAndGlyphs" style="stroke-width:0.1px">0.00</text>
<line x1="177.7" y1="499.3" x2="177.7" y2="501.6" stroke="#333" stroke-width="0.8"/>
<text x="168.02" y="510.60" font-size="9.15" fill="#262626" stroke="#262626" textLength="19.48" lengthAdjust="spacingAndGlyphs" style="stroke-width:0.1px">0.02</text>
<line x1="219.2" y1="499.3" x2="219.2" y2="501.6" stroke="#333" stroke-width="0.8"/>
<text x="209.32" y="510.60" font-size="9.15" fill="#262626" stroke="#262626" textLength="19.64" lengthAdjust="spacingAndGlyphs" style="stroke-width:0.1px">0.04</text>
<line x1="260.7" y1="499.3" x2="260.7" y2="501.6" stroke="#333" stroke-width="0.8"/>
<text x="250.86" y="510.60" font-size="9.15" fill="#262626" stroke="#262626" textLength="19.73" lengthAdjust="spacingAndGlyphs" style="stroke-width:0.1px">0.06</text>
<line x1="302.2" y1="499.3" x2="302.2" y2="501.6" stroke="#333" stroke-width="0.8"/>
<text x="292.38" y="510.60" font-size="9.15" fill="#262626" stroke="#262626" textLength="19.68" lengthAdjust="spacingAndGlyphs" style="stroke-width:0.1px">0.08</text>
<line x1="343.7" y1="499.3" x2="343.7" y2="501.6" stroke="#333" stroke-width="0.8"/>
<text x="333.87" y="510.60" font-size="9.15" fill="#262626" stroke="#262626" textLength="19.65" lengthAdjust="spacingAndGlyphs" style="stroke-width:0.1px">0.10</text>
<line x1="385.2" y1="499.3" x2="385.2" y2="501.6" stroke="#333" stroke-width="0.8"/>
<text x="375.52" y="510.60" font-size="9.15" fill="#262626" stroke="#262626" textLength="19.48" lengthAdjust="spacingAndGlyphs" style="stroke-width:0.1px">0.12</text>
<line x1="426.7" y1="499.3" x2="426.7" y2="501.6" stroke="#333" stroke-width="0.8"/>
<text x="416.82" y="510.60" font-size="9.15" fill="#262626" stroke="#262626" textLength="19.64" lengthAdjust="spacingAndGlyphs" style="stroke-width:0.1px">0.14</text>
<line x1="468.2" y1="499.3" x2="468.2" y2="501.6" stroke="#333" stroke-width="0.8"/>
<text x="458.36" y="510.60" font-size="9.15" fill="#262626" stroke="#262626" textLength="19.73" lengthAdjust="spacingAndGlyphs" style="stroke-width:0.1px">0.16</text>
<text x="264.11" y="523.10" font-size="10.8" fill="#262626" stroke="#262626" textLength="106.20" lengthAdjust="spacingAndGlyphs">mean(|SHAP value|)</text>
<text font-family="Liberation Serif" style="font-family:'Liberation Serif',serif;stroke-width:0" x="243.6" y="544.6" font-size="14" fill="#151515">(</text>
<text font-family="Liberation Serif" style="font-family:'Liberation Serif',serif;stroke-width:0" x="248.73" y="544.3" font-size="14" font-weight="bold" fill="#151515">b</text>
<text font-family="Liberation Serif" style="font-family:'Liberation Serif',serif;stroke-width:0" x="255.75" y="544.6" font-size="14" fill="#151515">)</text>
</svg></body></html>
